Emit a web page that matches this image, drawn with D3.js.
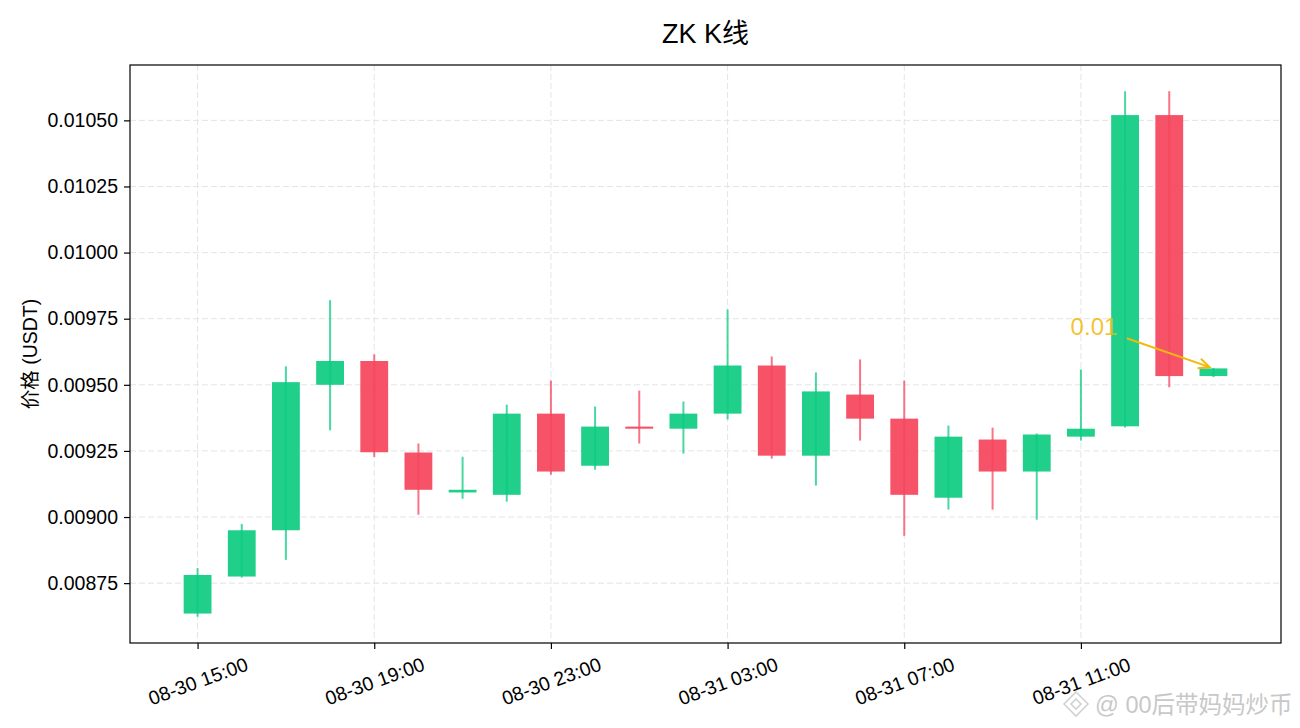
<!DOCTYPE html>
<html>
<head>
<meta charset="utf-8">
<script src="https://cdn.jsdelivr.net/npm/d3@7"></script>
<style>
  body { margin: 0; background: #fff; }
  text { font-family: "Liberation Sans", Arial, "Noto Sans CJK SC", sans-serif; }
</style>
</head>
<body>
<div id="chart"></div>
<script>
// hourly candles, ZK/USDT
const times = [
    "2025-08-30 15:00", "2025-08-30 16:00", "2025-08-30 17:00", "2025-08-30 18:00",
    "2025-08-30 19:00", "2025-08-30 20:00", "2025-08-30 21:00", "2025-08-30 22:00",
    "2025-08-30 23:00", "2025-08-31 00:00", "2025-08-31 01:00", "2025-08-31 02:00",
    "2025-08-31 03:00", "2025-08-31 04:00", "2025-08-31 05:00", "2025-08-31 06:00",
    "2025-08-31 07:00", "2025-08-31 08:00", "2025-08-31 09:00", "2025-08-31 10:00",
    "2025-08-31 11:00", "2025-08-31 12:00", "2025-08-31 13:00", "2025-08-31 14:00"
];
const opens = [0.008635, 0.008775, 0.008950, 0.009500, 0.009590, 0.009244, 0.009093, 0.009084,
    0.009391, 0.009194, 0.009342, 0.009334, 0.009391, 0.009573, 0.009232, 0.009463,
    0.009372, 0.009073, 0.009293, 0.009172, 0.009304, 0.009343, 0.010520, 0.009533];
const closes = [0.008781, 0.008950, 0.009510, 0.009590, 0.009245, 0.009103, 0.009103, 0.009391,
    0.009172, 0.009342, 0.009334, 0.009391, 0.009573, 0.009232, 0.009475, 0.009372,
    0.009084, 0.009304, 0.009172, 0.009312, 0.009334, 0.010520, 0.009533, 0.009562];
const highs = [0.008807, 0.008974, 0.009570, 0.009820, 0.009615, 0.009278, 0.009228, 0.009425,
    0.009516, 0.009418, 0.009478, 0.009437, 0.009785, 0.009607, 0.009547, 0.009596,
    0.009516, 0.009346, 0.009338, 0.009316, 0.009558, 0.010610, 0.010610, 0.009564];
const lows = [0.008623, 0.008771, 0.008838, 0.009328, 0.009227, 0.009009, 0.009069, 0.009058,
    0.009160, 0.009179, 0.009278, 0.009240, 0.009369, 0.009221, 0.009119, 0.009289,
    0.008929, 0.009028, 0.009028, 0.008990, 0.009289, 0.009339, 0.009491, 0.009529];

const xTicks = ["2025-08-30 15:00", "2025-08-30 19:00", "2025-08-30 23:00",
    "2025-08-31 03:00", "2025-08-31 07:00", "2025-08-31 11:00"];
const yTicks = [0.00875, 0.00900, 0.00925, 0.00950, 0.00975, 0.01000, 0.01025, 0.01050];

// annotation: label text, where the text sits, and the candle it points at
const annoText = "0.01";
const annoTextAt = { time: "2025-08-31 10:46", value: 0.009687 };
const annoTarget = { time: "2025-08-31 14:00", value: 0.009562 };

const parse = d3.utcParse("%Y-%m-%d %H:%M");
const data = times.map((t, i) => ({
    time: parse(t), open: opens[i], close: closes[i], high: highs[i], low: lows[i]
}));

const width = 1300, height = 728;
const margin = { top: 65, right: 19, bottom: 85, left: 130 };
const HOUR = 3600 * 1000;
const bodyHours = 0.63;
const green = "#0ecb81", red = "#f6465d";

const svg = d3.select("#chart").append("svg")
    .attr("width", width)
    .attr("height", height);

// scales
const x = d3.scaleUtc()
    .domain([new Date(+data[0].time - 1.53 * HOUR), new Date(+data[data.length - 1].time + 1.53 * HOUR)])
    .range([margin.left, width - margin.right]);

const lo = d3.min(lows), hi = d3.max(highs), pad = (hi - lo) * 0.05;
const y = d3.scaleLinear()
    .domain([lo - pad, hi + pad])
    .range([height - margin.bottom, margin.top]);

// grid
const grid = svg.append("g")
    .attr("stroke", "#e4e4e4")
    .attr("stroke-width", 1)
    .attr("stroke-dasharray", "6,3");
grid.selectAll(".gx")
    .data(xTicks.map(parse))
    .join("line")
    .attr("x1", d => x(d)).attr("x2", d => x(d))
    .attr("y1", margin.top).attr("y2", height - margin.bottom);
grid.selectAll(".gy")
    .data(yTicks)
    .join("line")
    .attr("x1", margin.left).attr("x2", width - margin.right)
    .attr("y1", d => y(d)).attr("y2", d => y(d));

// candles
const bw = x(new Date(+data[0].time + bodyHours * HOUR)) - x(data[0].time);
const candles = svg.append("g");
candles.selectAll("rect")
    .data(data)
    .join("rect")
    .attr("x", d => x(d.time) - bw / 2)
    .attr("y", d => y(Math.max(d.open, d.close)))
    .attr("width", bw)
    .attr("height", d => Math.max(1, Math.abs(y(d.open) - y(d.close))))
    .attr("fill", d => d.close >= d.open ? green : red)
    .attr("fill-opacity", 0.93);
candles.selectAll("line")
    .data(data)
    .join("line")
    .attr("x1", d => x(d.time)).attr("x2", d => x(d.time))
    .attr("y1", d => y(d.high)).attr("y2", d => y(d.low))
    .attr("stroke", d => d.close >= d.open ? green : red)
    .attr("stroke-opacity", 0.75)
    .attr("stroke-width", 2);

// axes
const fmt = d3.utcFormat("%m-%d %H:%M");
const xAxis = svg.append("g")
    .attr("transform", `translate(0,${height - margin.bottom})`)
    .call(d3.axisBottom(x).tickValues(xTicks.map(parse)).tickSize(6).tickFormat(fmt));
xAxis.select(".domain").remove();
xAxis.selectAll(".tick line").attr("stroke", "#000").attr("stroke-width", 1.2);
xAxis.selectAll(".tick text")
    .attr("font-size", 19.5)
    .attr("fill", "#000")
    .attr("text-anchor", "middle")
    .attr("dominant-baseline", "central")
    .attr("y", 0)
    .attr("dy", null)
    .attr("transform", "translate(0,38) rotate(-20)");

const yAxis = svg.append("g")
    .attr("transform", `translate(${margin.left},0)`)
    .call(d3.axisLeft(y).tickValues(yTicks).tickSize(6).tickPadding(6).tickFormat(d => d.toFixed(5)));
yAxis.select(".domain").remove();
yAxis.selectAll(".tick line").attr("stroke", "#000").attr("stroke-width", 1.2);
yAxis.selectAll(".tick text").attr("font-size", 19.5).attr("fill", "#000");

// frame
svg.append("rect")
    .attr("x", margin.left).attr("y", margin.top)
    .attr("width", width - margin.left - margin.right)
    .attr("height", height - margin.top - margin.bottom)
    .attr("fill", "none")
    .attr("stroke", "#000")
    .attr("stroke-width", 1.2);

// title and axis label
svg.append("text")
    .attr("x", (margin.left + width - margin.right) / 2)
    .attr("y", 43)
    .attr("text-anchor", "middle")
    .attr("font-size", 27)
    .attr("fill", "#000")
    .text("ZK K线");

svg.append("text")
    .attr("transform", `translate(37,${(margin.top + height - margin.bottom) / 2}) rotate(-90)`)
    .attr("text-anchor", "middle")
    .attr("font-size", 19.5)
    .attr("fill", "#000")
    .text("价格 (USDT)");

// annotation with arrow
const anno = svg.append("g");
const label = anno.append("text")
    .attr("x", x(parse(annoTextAt.time)))
    .attr("y", y(annoTextAt.value))
    .attr("font-size", 24)
    .attr("fill", "#f0b90b")
    .attr("fill-opacity", 0.85)
    .text(annoText);
const bb = label.node().getBBox();
const cx = bb.x + bb.width / 2, cy = bb.y + bb.height / 2;
const tx = x(parse(annoTarget.time)), ty = y(annoTarget.value);
const dx = tx - cx, dy = ty - cy, len = Math.hypot(dx, dy);
const ux = dx / len, uy = dy / len;
// leave the text box along the ray, then shrink both ends a little
const tExit = Math.min((bb.width / 2) / Math.abs(ux), (bb.height / 2) / Math.abs(uy));
const sx = cx + ux * (tExit + 10), sy = cy + uy * (tExit + 10);
const ex = tx - ux * 4, ey = ty - uy * 4;
anno.append("line")
    .attr("x1", sx).attr("y1", sy).attr("x2", ex).attr("y2", ey)
    .attr("stroke", "#f0b90b").attr("stroke-width", 2);
const hl = 11, hw = 5;
anno.append("path")
    .attr("d", `M${ex - ux * hl - uy * hw},${ey - uy * hl + ux * hw}L${ex},${ey}L${ex - ux * hl + uy * hw},${ey - uy * hl - ux * hw}`)
    .attr("fill", "none")
    .attr("stroke", "#f0b90b")
    .attr("stroke-width", 2);

// watermark
const wm = svg.append("g").attr("transform", "translate(1076,704)").attr("fill", "none").attr("stroke", "#d2d2d2").attr("stroke-width", 1.6);
wm.append("path").attr("d", "M0,-12L12,0L0,12L-12,0Z");
wm.append("path").attr("d", "M0,-5L5,0L0,5L-5,0Z");
svg.append("text")
    .attr("x", 1095)
    .attr("y", 713)
    .attr("font-size", 23.5)
    .attr("fill", "#c8c8c8")
    .text("@ 00后带妈妈炒币");
</script>
</body>
</html>
